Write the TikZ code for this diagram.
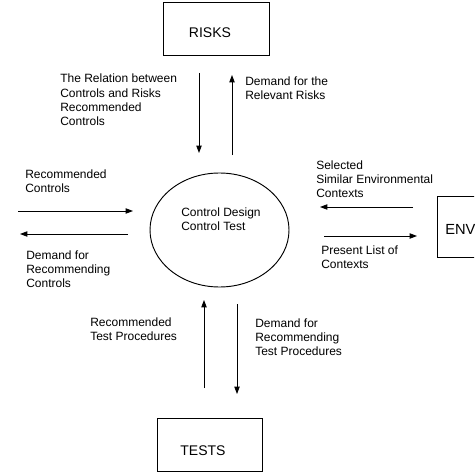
\documentclass[tikz,border=0pt]{standalone}
\usepackage{fontspec}
\setmainfont{Liberation Sans}
\usetikzlibrary{arrows.meta,shapes.geometric}

\tikzset{
  blk/.style={draw,line width=0.7pt,inner sep=0pt},
  ttl/.style={font=\fontsize{10.5}{12}\selectfont,inner sep=0pt},
  lbl/.style={font=\fontsize{9}{10.7}\selectfont,align=left,inner sep=0pt,anchor=west},
  flow/.style={line width=0.6pt,-{Triangle[length=5.5pt,width=4pt]}},
}

\begin{document}
\begin{tikzpicture}[x=0.75pt,y=0.75pt,yscale=-1,xscale=1]
\useasboundingbox (0,0) rectangle (474,474);
\clip (0,0) rectangle (474,474);

%Boxes
\node[blk,minimum width=79.5pt,minimum height=39.75pt] (risks) at (216,29) {};
\node[blk,minimum width=78.75pt,minimum height=39.75pt] (tests) at (209.5,444.5) {};
\node[blk,minimum width=63pt,minimum height=45.75pt] (env) at (479,226.5) {};
%Ellipse
\node[blk,ellipse,minimum width=104.25pt,minimum height=85.5pt] (ctl) at (219.5,230) {};

% Text Node
\node[ttl] (risksT) at (210,33) {RISKS};
% Text Node
\node[ttl] (testsT) at (203,451) {TESTS};
% Text Node
\node[ttl,font=\fontsize{11}{12}\selectfont,anchor=west] (envT) at (445,229) {ENV};
% Text Node
\node[font=\fontsize{9}{10.7}\selectfont,align=left,inner sep=0pt] (ctlT) at (221,219) {Control Design\\Control Test};

%Arrows to and from RISKS
\coordinate (rA1) at (199,73);  \coordinate (rA2) at (199,153);
\coordinate (rB1) at (232,155); \coordinate (rB2) at (232,75);
\draw[flow] (rA1) -- (rA2);
\draw[flow] (rB1) -- (rB2);
%Arrows to and from TESTS
\coordinate (tA1) at (204,388); \coordinate (tA2) at (204,300);
\coordinate (tB1) at (237,304); \coordinate (tB2) at (237,394);
\draw[flow] (tA1) -- (tA2);
\draw[flow] (tB1) -- (tB2);
%Arrows on the left
\coordinate (lA1) at (18,211);  \coordinate (lA2) at (133,211);
\coordinate (lB1) at (128,234); \coordinate (lB2) at (20,234);
\draw[flow] (lA1) -- (lA2);
\draw[flow] (lB1) -- (lB2);
%Arrows to and from ENV
\coordinate (eA1) at (413,207); \coordinate (eA2) at (320,207);
\coordinate (eB1) at (324,236); \coordinate (eB2) at (417,236);
\draw[flow] (eA1) -- (eA2);
\draw[flow] (eB1) -- (eB2);

% Text Node
\node[lbl] (relCtl) at (60,100) {The Relation between\\Controls and Risks\\Recommended\\Controls};
% Text Node
\node[lbl] (demRisk) at (245,88) {Demand for the\\Relevant Risks};
% Text Node
\node[lbl] (recCtl) at (25,181) {Recommended\\Controls};
% Text Node
\node[lbl] (demCtl) at (26,269) {Demand for\\Recommending\\Controls};
% Text Node
\node[lbl] (selCtx) at (316,179) {Selected\\Similar Environmental\\Contexts};
% Text Node
\node[lbl] (prsCtx) at (321,257) {Present List of\\Contexts};
% Text Node
\node[lbl] (recTst) at (90,329.5) {Recommended\\Test Procedures};
% Text Node
\node[lbl] (demTst) at (255,337) {Demand for\\Recommending\\Test Procedures};

\end{tikzpicture}
\end{document}
